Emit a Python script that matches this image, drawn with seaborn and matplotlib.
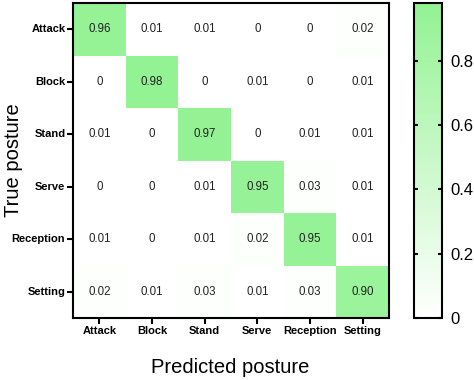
import numpy as np
import seaborn as sns
import matplotlib.pyplot as plt
from matplotlib.colors import LinearSegmentedColormap

# Etiquetas de posturas
posturas = ['Attack', 'Block', 'Stand', 'Serve', 'Reception', 'Setting']

# Matriz de confusion (fila = postura real, columna = predicha)
fila_attack = [0.96, 0.01, 0.01, 0.00, 0.00, 0.02]
fila_block = [0.00, 0.98, 0.00, 0.01, 0.00, 0.01]
fila_stand = [0.01, 0.00, 0.97, 0.00, 0.01, 0.01]
fila_serve = [0.00, 0.00, 0.01, 0.95, 0.03, 0.01]
fila_reception = [0.01, 0.00, 0.01, 0.02, 0.95, 0.01]
fila_setting = [0.02, 0.01, 0.03, 0.01, 0.03, 0.90]

matriz = np.array([fila_attack, fila_block, fila_stand, fila_serve, fila_reception, fila_setting])
etiquetas = [['0' if v == 0 else f'{v:.2f}' for v in fila] for fila in matriz]

plt.rcParams['font.family'] = ['Liberation Sans', 'DejaVu Sans']

cmap = LinearSegmentedColormap.from_list('verdes', ['#ffffff', '#93f293'])

fig = plt.figure(figsize=(4.74, 3.80), dpi=100)
ax = fig.add_axes([73 / 474, 1 - 318 / 380, 316 / 474, 315 / 380])
cax = fig.add_axes([414 / 474, 1 - 318 / 380, 28 / 474, 315 / 380])

sns.heatmap(matriz, ax=ax, cbar_ax=cax, cmap=cmap, vmin=0, vmax=0.98,
            annot=etiquetas, fmt='', annot_kws={'size': 8.3, 'color': '#222222'},
            xticklabels=posturas, yticklabels=posturas,
            cbar_kws={'ticks': [0, 0.2, 0.4, 0.6, 0.8]})

for lado in ['top', 'right', 'left', 'bottom']:
    ax.spines[lado].set_visible(True)
    ax.spines[lado].set_linewidth(1.5)
    ax.spines[lado].set_color('black')

ax.tick_params(axis='both', length=4, width=1.5, color='black', pad=1.5)
plt.setp(ax.get_xticklabels(), rotation=0, fontsize=8, fontweight='bold')
plt.setp(ax.get_yticklabels(), rotation=0, fontsize=8, fontweight='bold')

ax.set_xlabel('Predicted posture', fontsize=14.5)
ax.set_ylabel('True posture', fontsize=14.5)
ax.xaxis.set_label_coords(0.497, -0.128)
ax.yaxis.set_label_coords(-0.158, 0.5)

cbar = ax.collections[0].colorbar
cbar.outline.set_visible(True)
cbar.outline.set_linewidth(1.5)
cbar.outline.set_edgecolor('black')
cbar.ax.yaxis.set_ticks_position('both')
cbar.ax.tick_params(length=3, width=1.5, labelsize=12, direction='in', pad=6,
                    labelleft=False, labelright=True)
cbar.ax.set_yticklabels(['0', '0.2', '0.4', '0.6', '0.8'])

fig.savefig('out.png', dpi=100)
